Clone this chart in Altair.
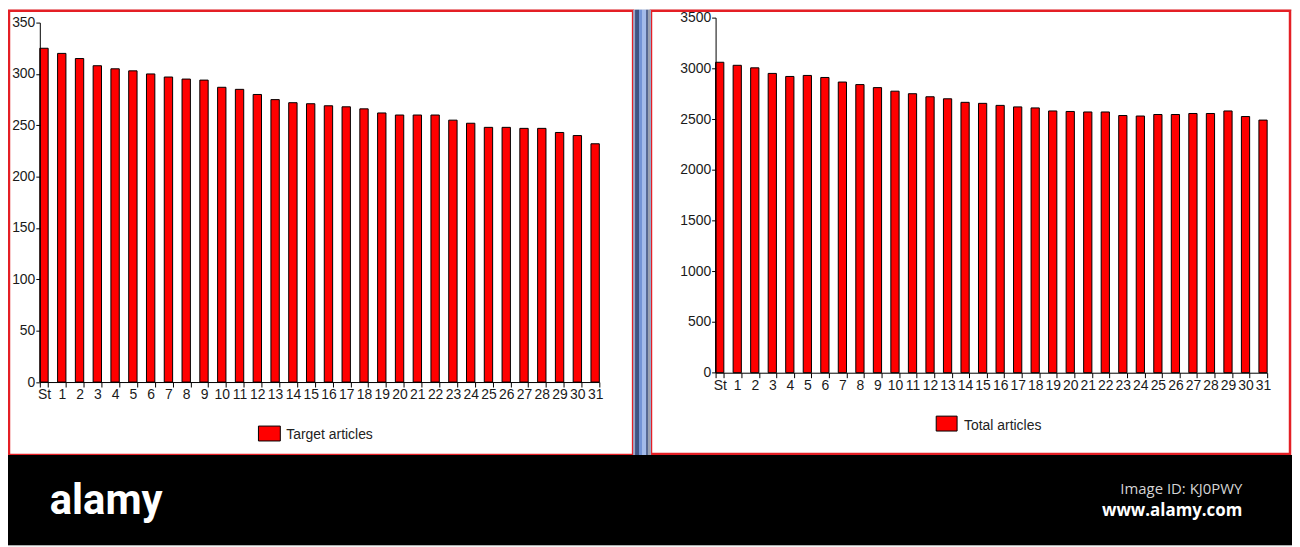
import altair as alt
import pandas as pd

# categorias e valores
dias = ["St"] + [str(i) for i in range(1, 32)]
target = [325, 320, 315, 308, 305, 303, 300, 297, 295, 294, 287, 285, 280, 275, 272, 271,
          269, 268, 266, 262, 260, 260, 260, 255, 252, 248, 248, 247, 247, 243, 240, 232]
total = [3060, 3030, 3005, 2950, 2920, 2930, 2910, 2865, 2840, 2810, 2775, 2750, 2720, 2700, 2665, 2655,
         2635, 2620, 2610, 2580, 2575, 2570, 2570, 2535, 2530, 2545, 2545, 2555, 2555, 2580, 2525, 2490]
ticks_target = [0, 50, 100, 150, 200, 250, 300, 350]
ticks_total = [0, 500, 1000, 1500, 2000, 2500, 3000, 3500]

df = pd.DataFrame({"dia": dias, "target": target, "total": total})
um = pd.DataFrame({"k": [0]})

W, H = 1292, 539
VERMELHO = "#e41f25"
FONTE = "Liberation Sans"


def caixa(x, x2, y, y2, cor, borda=None, largura=0):
    kw = dict(fill=cor)
    if borda:
        kw.update(stroke=borda, strokeWidth=largura)
    return alt.Chart(um).mark_rect(**kw).encode(
        x=alt.value(x), x2=alt.value(x2), y=alt.value(y), y2=alt.value(y2)
    )


def texto(t, x, y, tamanho, cor="#222", peso="normal", fonte=FONTE, align="left"):
    return alt.Chart(um).mark_text(
        text=t, fontSize=tamanho, color=cor, fontWeight=peso, font=fonte,
        align=align, baseline="alphabetic"
    ).encode(x=alt.value(x), y=alt.value(y))


def barras(campo, faixa_x, faixa_y, dominio, valores, ox, oy):
    # eixos por cima do fundo (zindex=1)
    eixo_x = alt.Axis(orient="bottom", offset=oy, title=None, labelAngle=0, grid=False,
                      tickBand="extent", tickSize=5, labelPadding=1, labelFontSize=14,
                      labelFont=FONTE, labelColor="#1a1a1a", labelOverlap=False,
                      labelBound=False, domainColor="black", tickColor="black", zindex=1)
    eixo_y = alt.Axis(orient="left", offset=ox, title=None, grid=False, values=valores,
                      format="d", tickSize=4, labelPadding=1, labelFontSize=14,
                      labelFont=FONTE, labelColor="#1a1a1a", domainColor="black",
                      tickColor="black", zindex=1)
    return alt.Chart(df).mark_bar(color="#ff0000", stroke="black", strokeWidth=1).encode(
        x=alt.X("dia:N", sort=dias,
                scale=alt.Scale(range=faixa_x, paddingInner=0.53, paddingOuter=0),
                axis=eixo_x),
        y=alt.Y(f"{campo}:Q", scale=alt.Scale(domain=dominio, range=faixa_y, nice=False),
                axis=eixo_y),
    )


# fundo: painéis, divisória e faixa preta
fundo = [
    caixa(1, 629, 1, 448, "white", VERMELHO, 2.5),
    caixa(647, 1290, 1, 447, "white", VERMELHO, 2.5),
    caixa(629, 647, 0, 449, "#9aa9c9"),
    caixa(631, 635, 0, 449, "#3f5383"),
    caixa(635, 638, 0, 449, "#7394d6"),
    caixa(638, 642, 0, 449, "#a3bbea"),
    caixa(642, 644, 0, 449, "#566892"),
    caixa(644, 646, 0, 449, "#9aa2b2"),
    caixa(0, W, 448, H, "black"),
]

esquerdo = barras("target", [32, 595], [374.7, 13], [0, 350], ticks_target, -32, 374.7 - H)
direito = barras("total", [712, 1267], [365.3, 8], [0, 3500], ticks_total, -712, 365.3 - H)

legendas = [
    caixa(252, 274, 419, 434, "#ff0000", "black", 1),
    texto("Target articles", 280, 432, 14),
    caixa(934, 955, 409, 424, "#ff0000", "black", 1),
    texto("Total articles", 962, 423, 14),
]

marca = [
    texto("alamy", 42, 507, 42, "white", "bold", "Roboto, sans-serif"),
    texto("Image ID: KJ0PWY", 1242, 487, 15, "#d4d4d4", "normal", "Open Sans", "right"),
    texto("www.alamy.com", 1242, 509, 17, "white", "bold", "Open Sans", "right"),
]

chart = alt.layer(*fundo, esquerdo, direito, *legendas, *marca).resolve_scale(
    x="independent", y="independent"
).properties(
    width=W, height=H, padding=0, autosize=alt.AutoSizeParams(type="none")
).configure_view(stroke=None).configure(background="white")

chart.save("out.html", embed_options={"renderer": "svg", "actions": False})
